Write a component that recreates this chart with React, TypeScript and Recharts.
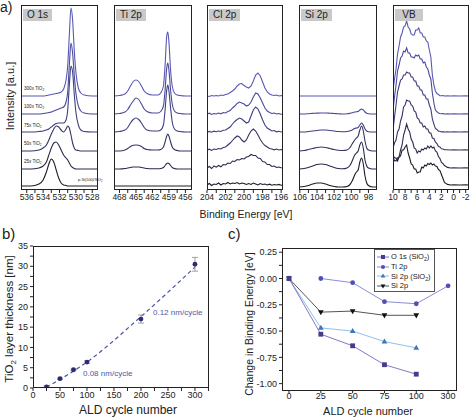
import React from 'react';
import { LineChart, Line, XAxis, YAxis, ErrorBar } from 'recharts';

const FONT = '"Liberation Sans", Arial, Helvetica, sans-serif';
const INK = '#222';

// ---------- a) XPS spectra ----------
// intensities in frame units: 0 = bottom edge of the frame, 185 = top edge (stacked curves)
// curve order: p-Si(100)/SiO2, 25x, 50x, 75x, 100x, 300x TiO2
const SPEC_COLORS = ['#1c1c28', '#2a2a4c', '#343466', '#3f3f82', '#4a4a9c', '#5858b6'];

const O1S_E = [536.7, 535.5, 534.5, 534, 533.6, 533.3, 533, 532.7, 532.4, 532.1, 531.8, 531.5, 531.2, 531, 530.8, 530.6, 530.4, 530.2, 530, 529.7, 529.4, 529, 528, 527.3];
const O1S_SUB = [4, 4, 6, 10, 18, 26, 31, 28, 20, 12, 7, 5, 4.5, 4, 4, 4, 4, 4, 4, 4, 4, 4, 4, 4];
const O1S_25 = [21, 21, 22, 24, 28, 35, 42, 47, 48, 45, 40, 35, 32, 30, 27, 24, 22.5, 21.5, 21, 21, 21, 21, 21, 21];
const O1S_50 = [39, 39, 40, 42, 45, 50, 56, 61, 64, 63, 60, 58, 61, 64, 62, 55, 47, 42, 40, 39.5, 39, 39, 39, 39];
const O1S_75 = [58, 58, 58.5, 59, 60, 61, 63, 65, 66.5, 67, 67, 67, 70, 80, 105, 124, 118, 96, 78, 65, 60, 58.5, 58, 58];
const O1S_100 = [76, 76, 76, 76.5, 77, 77.5, 78, 79, 80, 81, 82, 83, 88, 98, 125, 147, 137, 115, 97, 84, 79, 77, 76, 76];
const O1S_300 = [94, 94, 94, 94, 94.5, 95, 95.5, 96, 96.5, 97, 98, 101, 110, 124, 155, 182, 170, 140, 118, 102, 97, 95, 94, 94];

const TI_E = [469, 468, 467, 466.5, 466, 465.5, 465, 464.5, 464, 463.5, 463, 462, 461, 460.5, 460, 459.7, 459.4, 459.2, 459, 458.7, 458.4, 458, 457.5, 457, 456, 454.8];
const TI_SUB = [4, 4, 4, 4, 4, 4, 4, 4, 4, 4, 4, 4, 4, 4, 4, 4, 4, 4, 4, 4, 4, 4, 4, 4, 4, 4];
const TI_25 = [21, 21, 21.5, 22, 22.5, 23, 23, 23, 22.5, 22, 21.5, 21.2, 21.2, 21.5, 22.5, 24.5, 26.5, 27, 26.5, 24.5, 22.5, 21.5, 21, 21, 21, 21];
const TI_50 = [39, 39, 40, 41.5, 43.5, 44.7, 45, 44.7, 43.5, 41.5, 40.5, 40, 40, 40.5, 43, 48, 54, 56, 54, 48, 43, 40.5, 39.5, 39, 39, 39];
const TI_75 = [58, 58.5, 60, 62.5, 67, 70.5, 72, 70.5, 67, 62.5, 60, 59, 59, 60, 65, 80, 100, 105, 99, 82, 68, 61, 59, 58.5, 58, 58];
const TI_100 = [76, 76.5, 78, 80.5, 85, 89, 92, 90.5, 86, 81, 78.5, 77, 77, 78.5, 84, 100, 122, 127, 120, 100, 86, 79, 77, 76.5, 76, 76];
const TI_300 = [94, 94.5, 96, 99, 104, 108.5, 110, 108.5, 104, 99, 96.5, 95, 95, 97, 104, 125, 154, 158, 148, 120, 104, 97, 95, 94.5, 94, 94];

const CL_E = [204, 203.75, 203.5, 203.25, 203, 202.75, 202.5, 202.25, 202, 201.75, 201.5, 201.25, 201, 200.75, 200.5, 200.25, 200, 199.75, 199.5, 199.25, 199, 198.75, 198.5, 198.25, 198, 197.75, 197.5, 197.25, 197, 196.75, 196.5, 196.25, 196, 195.8];
const CL_SUB = [5, 6.5, 4.5, 6, 5.5, 7, 5, 6.5, 6, 7.5, 6, 7, 6.5, 7.5, 6, 7, 6.5, 5.5, 6.5, 5.5, 7, 6, 5, 6.5, 5.5, 6, 5, 5.8, 4.8, 5.5, 5, 5.6, 4.8, 5];
const CL_25 = [22, 23.5, 21.5, 24, 22.8, 24.5, 23.2, 25.5, 25, 27, 26.5, 29, 28.5, 30.5, 30, 31.5, 31, 33, 33.5, 35.5, 34.5, 34.5, 32, 31.5, 28.5, 28, 25.5, 25.5, 23.5, 24, 22.5, 23, 22.3, 22];
const CL_50 = [40, 40.8, 39.6, 41, 40.5, 41.5, 41, 42.5, 43, 45, 47, 49.5, 52, 54, 53, 50, 48, 50, 55, 59, 61, 59, 55, 50.5, 47, 44.5, 43, 41.5, 41, 40.2, 41, 40, 40.5, 40];
const CL_75 = [58, 58.6, 57.8, 58.8, 58.2, 59, 58.5, 59.8, 60, 61.5, 63, 66, 68.5, 70.5, 72, 71, 69, 67, 68, 74, 80, 83, 81, 76, 70, 65, 62, 60.5, 59, 59.5, 58.2, 58.8, 58, 58.3];
const CL_100 = [76, 76.8, 75.5, 76.5, 76, 77, 76.2, 77.5, 77, 78.5, 79.5, 82, 84, 86.5, 88, 87, 86, 84, 85, 88, 93, 97, 96, 92, 87, 82, 79, 77.5, 76.5, 77, 76, 76.5, 75.8, 76];
const CL_300 = [94, 93.5, 94.5, 94, 94.5, 94, 95, 94.5, 95.5, 96, 97.5, 99, 101, 104, 106, 106.5, 104.5, 103, 102, 104, 109, 115, 117, 114, 108, 102, 98, 96, 95, 94.5, 95, 94, 94.5, 94];

const SI_E = [106.1, 105.5, 105, 104.5, 104, 103.5, 103, 102.5, 102, 101.5, 101, 100.5, 100.2, 99.9, 99.6, 99.4, 99.2, 99.0, 98.8, 98.6, 98.4, 98.2, 98, 97.5, 97];
const SI_SUB = [3, 3.5, 4.5, 6, 7, 7, 6, 4.5, 3.5, 3, 3, 3.5, 5, 9, 15, 18, 20, 28, 32, 26, 14, 7, 4.5, 3, 3];
const SI_25 = [21, 21.5, 22.5, 24, 25.5, 26, 25.5, 24, 22.5, 21.5, 21.2, 22, 24, 29, 35, 37, 39, 45, 48, 42, 30, 24, 22, 21, 21];
const SI_50 = [39, 39.5, 40.5, 41.5, 42.5, 43, 42.5, 41.5, 40.5, 39.8, 39.5, 40, 42, 46, 50, 52, 54, 60, 64, 59, 49, 42, 40, 39, 39];
const SI_75 = [58, 58, 58.5, 59, 59.5, 60, 60, 59.5, 59, 58.5, 58.2, 58.5, 59, 60, 61.5, 62, 62.5, 65, 67, 65, 61, 59, 58.3, 58, 58];
const SI_100 = [76, 76, 76.3, 76.6, 76.9, 77, 77, 76.8, 76.5, 76.2, 76, 76.2, 76.6, 77.3, 78, 78.3, 78.5, 80, 81, 80, 78, 76.8, 76.3, 76, 76];
const SI_300 = [94, 94, 94, 94, 94, 94, 94, 94, 94, 94, 94, 94, 94, 94, 94, 94, 94, 94, 94, 94, 94, 94, 94, 94, 94];

const VB_E = [10, 9.75, 9.5, 9.25, 9, 8.75, 8.5, 8.25, 8, 7.75, 7.5, 7.25, 7, 6.75, 6.5, 6.25, 6, 5.75, 5.5, 5.25, 5, 4.75, 4.5, 4.25, 4, 3.75, 3.5, 3.25, 3, 2.75, 2.5, 2.25, 2, 1.75, 1.5, 1, 0.5, 0, -1, -2, -2.5];
const VB_SUB = [35, 32, 32, 29, 33, 34, 40, 40, 43, 45, 37, 32, 26, 25, 21, 21, 17, 18, 18, 23, 22, 25, 24, 26.5, 25.5, 27, 25, 26, 24, 23.5, 20.5, 19.5, 15.5, 11.5, 7.5, 5.6, 5, 5.1, 5, 5.1, 5];
const VB_25 = [27, 30, 29, 32, 33, 40, 45, 55, 60, 66, 61, 58, 51, 48, 42, 41, 37, 39, 38, 41, 40, 42, 41, 44, 42, 44, 42, 43, 39, 38, 33.5, 31.5, 27.5, 26.5, 24.5, 22.6, 22, 22.1, 22, 22.1, 22];
const VB_50 = [42, 47, 50, 58, 61, 69, 74, 83, 85, 90, 89, 89, 85, 84, 79, 78, 72, 71, 67, 67, 63, 64, 61, 61, 57, 57, 52, 51.5, 48, 46.5, 43.5, 43, 41.2, 41, 40.2, 40.2, 40, 40.1, 40, 40.1, 40];
const VB_75 = [60, 73, 85, 98, 104, 110, 111, 115, 115, 118, 117, 117, 113, 113, 109, 109, 104, 104, 100, 100, 95, 95, 91, 91, 85, 81, 71, 66, 61.5, 60.5, 58.8, 58.7, 58, 58.4, 58, 58.2, 58, 58.1, 58, 58.1, 58];
const VB_100 = [80, 93, 105, 119, 125, 132, 134, 139, 138, 142, 137, 137, 133, 133, 132, 135, 134, 135, 131, 131, 127, 128, 123, 121, 115, 111, 97, 87, 80, 78.3, 77, 76.5, 76.2, 76.4, 76, 76.2, 76, 76.1, 76, 76.1, 76];
const VB_300 = [100, 111, 121, 136, 144, 153, 157, 163, 164, 169, 163, 161, 156, 155, 155, 160, 160, 162, 157, 157, 153, 153, 149, 148, 140, 133, 115, 105, 99, 96.5, 95.5, 94.3, 94.2, 94.5, 94, 94.2, 94, 94.2, 94, 94.1, 94];

const SPECTRA = [
  { title: 'O 1s', left: 21, width: 77, domain: [527.3, 536.7], ticks: [528, 529, 530, 531, 532, 533, 534, 535, 536], labels: [528, 530, 532, 534, 536], energies: O1S_E, curves: [O1S_SUB, O1S_25, O1S_50, O1S_75, O1S_100, O1S_300], smooth: true },
  { title: 'Ti 2p', left: 114, width: 78, domain: [454.8, 469], ticks: [456, 457.5, 459, 460.5, 462, 463.5, 465, 466.5, 468], labels: [456, 459, 462, 465, 468], energies: TI_E, curves: [TI_SUB, TI_25, TI_50, TI_75, TI_100, TI_300], smooth: true },
  { title: 'Cl 2p', left: 207, width: 76, domain: [195.8, 204], ticks: [196, 197, 198, 199, 200, 201, 202, 203, 204], labels: [196, 198, 200, 202, 204], energies: CL_E, curves: [CL_SUB, CL_25, CL_50, CL_75, CL_100, CL_300], smooth: false },
  { title: 'Si 2p', left: 299, width: 78, domain: [97, 106.1], ticks: [98, 99, 100, 101, 102, 103, 104, 105, 106], labels: [98, 100, 102, 104, 106], energies: SI_E, curves: [SI_SUB, SI_25, SI_50, SI_75, SI_100, SI_300], smooth: true },
  { title: 'VB', left: 393, width: 76, domain: [-2.55, 10], ticks: [-2, -1, 0, 1, 2, 3, 4, 5, 6, 7, 8, 9, 10], labels: [-2, 0, 2, 4, 6, 8, 10], energies: VB_E, curves: [VB_SUB, VB_25, VB_50, VB_75, VB_100, VB_300], smooth: false },
];

// ---------- b) layer thickness ----------
const CYCLES = [25, 50, 75, 100, 200, 300];
const THICKNESS = [0.3, 2.3, 4.5, 6.4, 17, 30.5];
const THICK_ERR = [0.2, 0.2, 0.2, 0.3, 1.0, 1.7];
const FIT_X = [25, 100, 200, 300];
const FIT_Y = [0.2, 6.4, 17.6, 29.8];

// ---------- c) binding energy shifts ----------
const C_CATS = ['0', '25', '50', '75', '100', '300'];
const O1S_SHIFT = [0, -0.53, -0.64, -0.82, -0.91, null];
const TI_SHIFT = [null, 0.0, -0.04, -0.22, -0.24, -0.07];
const SIO2_SHIFT = [0, -0.47, -0.5, -0.6, -0.66, null];
const SI_SHIFT = [0, -0.32, -0.31, -0.35, -0.35, null];

const SERIES_C = [
  { name: 'Si 2p', vals: SI_SHIFT, line: '#555555', fill: '#111111', shape: 'down' },
  { name: 'Si 2p (SiO2)', vals: SIO2_SHIFT, line: '#8ec0ec', fill: '#3f77b3', shape: 'up' },
  { name: 'Ti 2p', vals: TI_SHIFT, line: '#8c8cd6', fill: '#5050b0', shape: 'circle' },
  { name: 'O 1s (SiO2)', vals: O1S_SHIFT, line: '#8577c4', fill: '#473b8c', shape: 'square' },
];

const Mark = ({ cx, cy, shape, fill, s = 2.4 }: any) => {
  if (cx == null || cy == null || Number.isNaN(cy)) return null;
  if (shape === 'square') return <rect x={cx - s} y={cy - s} width={2 * s} height={2 * s} fill={fill} />;
  if (shape === 'circle') return <circle cx={cx} cy={cy} r={s} fill={fill} />;
  if (shape === 'up')
    return <polygon points={`${cx},${cy - s * 1.3} ${cx - s * 1.2},${cy + s * 0.8} ${cx + s * 1.2},${cy + s * 0.8}`} fill={fill} />;
  return <polygon points={`${cx},${cy + s * 1.3} ${cx - s * 1.2},${cy - s * 0.8} ${cx + s * 1.2},${cy - s * 0.8}`} fill={fill} />;
};

const dotOf = (shape: string, fill: string, s?: number) => (p: any) => (
  <g key={`d-${p.index}`}>
    {p.value != null && <Mark cx={p.cx} cy={p.cy} shape={shape} fill={fill} s={s} />}
  </g>
);

const Sub2 = () => <sub style={{ fontSize: '0.7em', verticalAlign: '-0.3em', lineHeight: 0 }}>2</sub>;

const Txt = ({ x, y, size, rot, color = INK, children }: any) => (
  <div
    style={{
      position: 'absolute', left: x, top: y, whiteSpace: 'nowrap', fontSize: size, lineHeight: 1,
      color, fontFamily: FONT,
      transform: `translate(-50%, -50%)${rot ? ' rotate(-90deg)' : ''}`,
    }}
  >
    {children}
  </div>
);

const Frame = ({ left, top, width, height }: any) => (
  <div style={{ position: 'absolute', left, top, width, height, border: `1px solid ${INK}`, boxSizing: 'border-box', pointerEvents: 'none' }} />
);

const tickStyle = (size: number) => ({ fontSize: size, fill: INK, fontFamily: FONT });

function Spectrum({ p }: any) {
  const W = p.width + 24;
  const fmt = (v: number) => (p.labels.includes(v) ? String(v) : '');
  return (
    <div style={{ position: 'absolute', left: p.left - 12, top: 0, width: W, height: 210 }}>
      <LineChart width={W} height={210} margin={{ top: 5, right: 12, bottom: 0, left: 12 }}>
        <XAxis type="number" dataKey="e" domain={p.domain} reversed allowDataOverflow ticks={p.ticks} interval={0}
          tickFormatter={fmt} height={20} tickSize={3} tickMargin={1} axisLine={false}
          tickLine={{ stroke: INK }} tick={tickStyle(8.5)} />
        <XAxis xAxisId="top" orientation="top" type="number" dataKey="e" domain={p.domain} reversed allowDataOverflow
          ticks={p.ticks} interval={0} tickFormatter={() => ''} height={0} tickSize={3} axisLine={false}
          tickLine={{ stroke: INK }} />
        <YAxis hide type="number" domain={[0, 185]} allowDataOverflow />
        {p.curves.map((c: number[], i: number) => (
          <Line key={i} data={p.energies.map((e: number, j: number) => ({ e, v: c[j] }))} dataKey="v"
            type={p.smooth ? 'monotone' : 'linear'} stroke={SPEC_COLORS[i]} strokeWidth={1.1}
            dot={false} isAnimationActive={false} />
        ))}
      </LineChart>
      <Frame left={12} top={5} width={p.width} height={185} />
      <div style={{
        position: 'absolute', left: 14, top: 9, height: 12, padding: '0 4px', background: '#c9c9c9',
        fontFamily: FONT, fontSize: 10, lineHeight: '12px', color: INK, minWidth: 20, textAlign: 'center',
      }}>{p.title}</div>
    </div>
  );
}

const range = (a: number, b: number, s: number) => {
  const out: number[] = [];
  for (let v = a; v <= b + 1e-9; v += s) out.push(Math.round(v * 1000) / 1000);
  return out;
};

export default function App() {
  const thickData = CYCLES.map((x, i) => ({ x, t: THICKNESS[i], err: THICK_ERR[i] }));
  const fitData = FIT_X.map((x, i) => ({ x, f: FIT_Y[i] }));
  const bxTicks = range(0, 325, 25);
  const byTicks = range(0, 35, 2.5);
  const cyTicks = range(-1, 0.25, 0.125);
  const isQuarter = (v: number) => Math.abs(v * 4 - Math.round(v * 4)) < 1e-9;

  const sampleLabels = [
    { t: '300x TiO', y: 90 }, { t: '100x TiO', y: 108 }, { t: '75x TiO', y: 127 },
    { t: '50x TiO', y: 145 }, { t: '25x TiO', y: 163 },
  ];

  return (
    <div style={{ position: 'absolute', left: 0, top: 0, width: 474, height: 417, background: '#fff', overflow: 'hidden', fontFamily: FONT }}>
      {/* a) */}
      {SPECTRA.map((p) => <Spectrum key={p.title} p={p} />)}
      {sampleLabels.map((s) => (
        <div key={s.t} style={{ position: 'absolute', left: 24, top: s.y - 3, fontSize: 4.6, lineHeight: 1, color: INK, fontFamily: FONT, whiteSpace: 'nowrap' }}>
          {s.t}<Sub2 />
        </div>
      ))}
      <div style={{ position: 'absolute', left: 78, top: 179, fontSize: 3.8, lineHeight: 1, color: INK, fontFamily: FONT, whiteSpace: 'nowrap' }}>
        p-Si(100)/SiO<Sub2 />
      </div>
      <div style={{ position: 'absolute', left: 0, top: 0, fontSize: 14, lineHeight: 1, color: INK, fontFamily: FONT }}>a)</div>
      <Txt x={10} y={96} size={11} rot>Intensity [a.u.]</Txt>
      <Txt x={246} y={214} size={10.5}>Binding Energy [eV]</Txt>

      {/* b) */}
      <div style={{ position: 'absolute', left: 0, top: 236 }}>
        <LineChart width={220} height={178} margin={{ top: 10, right: 11, bottom: 6, left: 13 }}>
          <XAxis type="number" dataKey="x" domain={[0, 326]} allowDataOverflow ticks={bxTicks} interval={0}
            tickFormatter={(v: number) => (v % 50 === 0 ? String(v) : '')} height={20} tickSize={3} tickMargin={1}
            axisLine={false} tickLine={{ stroke: INK }} tick={tickStyle(9)} />
          <XAxis xAxisId="top" orientation="top" mirror type="number" dataKey="x" domain={[0, 326]} allowDataOverflow
            ticks={bxTicks} interval={0} tickFormatter={() => ''} height={0} tickSize={3} axisLine={false}
            tickLine={{ stroke: INK }} />
          <YAxis type="number" domain={[0, 35]} allowDataOverflow ticks={byTicks} interval={0}
            tickFormatter={(v: number) => (v % 5 === 0 ? String(v) : '')} width={20} tickSize={3} tickMargin={2}
            axisLine={false} tickLine={{ stroke: INK }} tick={tickStyle(9)} />
          <YAxis yAxisId="r" orientation="right" mirror type="number" domain={[0, 35]} allowDataOverflow ticks={byTicks}
            interval={0} tickFormatter={() => ''} width={0} tickSize={3} axisLine={false} tickLine={{ stroke: INK }} />
          <Line data={fitData} dataKey="f" type="monotone" stroke="#4a55a8" strokeWidth={1.2} strokeDasharray="4 3"
            dot={false} isAnimationActive={false} />
          <Line data={thickData} dataKey="t" stroke="none" dot={dotOf('circle', '#2b2b6e', 2.4)} isAnimationActive={false}>
            <ErrorBar dataKey="err" direction="y" width={3} stroke="#8a8a8a" strokeWidth={0.8} />
          </Line>
        </LineChart>
      </div>
      <Frame left={33} top={246} width={176} height={142} />
      <div style={{ position: 'absolute', left: 2, top: 226, fontSize: 15, lineHeight: 1, color: INK, fontFamily: FONT }}>b)</div>
      <Txt x={10} y={319} size={11.5} rot>TiO<Sub2 /> layer thickness [nm]</Txt>
      <Txt x={128} y={410} size={12}>ALD cycle number</Txt>
      <div style={{ position: 'absolute', left: 153, top: 309, fontSize: 8, lineHeight: 1, color: '#4a58a8', fontFamily: FONT, whiteSpace: 'nowrap' }}>0.12 nm/cycle</div>
      <div style={{ position: 'absolute', left: 83, top: 370, fontSize: 8, lineHeight: 1, color: '#4a58a8', fontFamily: FONT, whiteSpace: 'nowrap' }}>0.08 nm/cycle</div>

      {/* c) */}
      <div style={{ position: 'absolute', left: 240, top: 236 }}>
        <LineChart width={230} height={178} margin={{ top: 12, right: 13, bottom: 5, left: 12 }}>
          <XAxis type="number" dataKey="i" domain={[-0.22, 5.28]} allowDataOverflow ticks={[0, 1, 2, 3, 4, 5]} interval={0}
            tickFormatter={(v: number) => C_CATS[v] ?? ''} height={18} tickSize={2} tickMargin={0}
            axisLine={false} tickLine={{ stroke: INK }} tick={tickStyle(9)} />
          <XAxis xAxisId="top" orientation="top" mirror type="number" dataKey="i" domain={[-0.22, 5.28]} allowDataOverflow
            ticks={[0, 1, 2, 3, 4, 5]} interval={0} tickFormatter={() => ''} height={0} tickSize={3} axisLine={false}
            tickLine={{ stroke: INK }} />
          <YAxis type="number" domain={[-1.07, 0.29]} allowDataOverflow ticks={cyTicks} interval={0}
            tickFormatter={(v: number) => (isQuarter(v) ? v.toFixed(2) : '')} width={30} tickSize={3} tickMargin={2}
            axisLine={false} tickLine={{ stroke: INK }} tick={tickStyle(9)} />
          <YAxis yAxisId="r" orientation="right" mirror type="number" domain={[-1.07, 0.29]} allowDataOverflow ticks={cyTicks}
            interval={0} tickFormatter={() => ''} width={0} tickSize={3} axisLine={false} tickLine={{ stroke: INK }} />
          {SERIES_C.map((s) => (
            <Line key={s.name} data={s.vals.map((v, i) => ({ i, v }))} dataKey="v" stroke={s.line} strokeWidth={1}
              dot={dotOf(s.shape, s.fill)} isAnimationActive={false} />
          ))}
        </LineChart>
      </div>
      <Frame left={282} top={248} width={175} height={143} />
      <div style={{ position: 'absolute', left: 228, top: 226, fontSize: 15, lineHeight: 1, color: INK, fontFamily: FONT }}>c)</div>
      <Txt x={249} y={324} size={10.5} rot>Change in Binding Energy [eV]</Txt>
      <Txt x={368} y={411} size={11}>ALD cycle number</Txt>
      <div style={{
        position: 'absolute', left: 374, top: 249, width: 61, height: 43, border: '1px solid #555', boxSizing: 'border-box',
        background: '#fff', padding: '2px 0 0 2px',
      }}>
        {[...SERIES_C].reverse().map((s) => (
          <div key={s.name} style={{ display: 'flex', alignItems: 'center', height: 9.7, fontSize: 7.5, fontFamily: FONT, color: INK, whiteSpace: 'nowrap' }}>
            <svg width={12} height={8} style={{ marginRight: 2, flex: 'none' }}>
              <line x1={0} y1={4} x2={12} y2={4} stroke={s.line} strokeWidth={1} />
              <Mark cx={6} cy={4} shape={s.shape} fill={s.fill} s={2} />
            </svg>
            {s.name.endsWith('(SiO2)') ? <span>{s.name.replace('(SiO2)', '(SiO')}<Sub2 />)</span> : s.name}
          </div>
        ))}
      </div>
    </div>
  );
}
